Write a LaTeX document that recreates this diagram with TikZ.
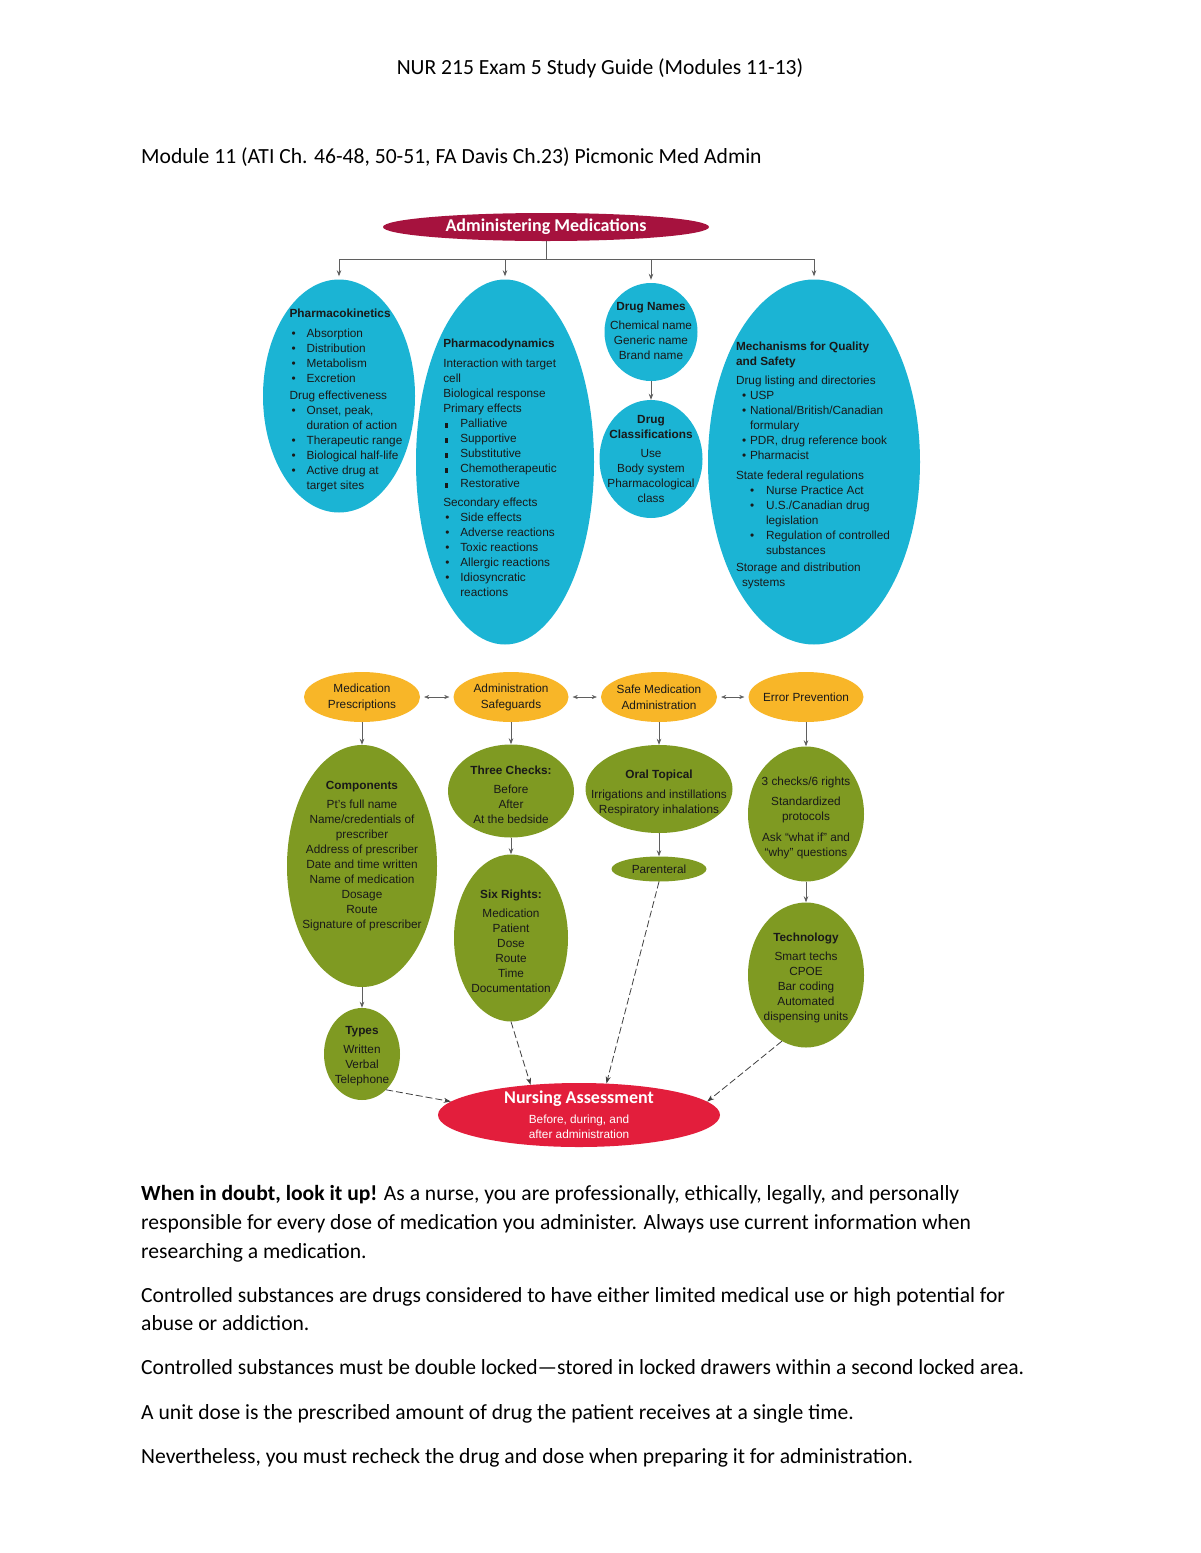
\documentclass[tikz,border=0pt]{standalone}
\usepackage{fontspec}
\setmainfont{Carlito}
\newfontfamily\arialfont{Liberation Sans}
\usetikzlibrary{positioning,shapes.geometric,arrows.meta}

\definecolor{titlered}{RGB}{166,18,62}
\definecolor{nurred}{RGB}{227,30,60}
\definecolor{ovalcyan}{RGB}{27,180,212}
\definecolor{ovalorange}{RGB}{248,182,40}
\definecolor{ovalgreen}{RGB}{127,154,34}
\definecolor{linegray}{RGB}{95,95,95}

% bullets for the list ovals
\newcommand\bul[1]{\hspace*{2pt}\makebox[15pt][l]{•}#1}
\newcommand\sqbul[1]{\hspace*{2pt}\makebox[15pt][l]{\rule{3pt}{4.5pt}}#1}
\newcommand\sbul[1]{\hspace*{6pt}\makebox[8pt][l]{•}#1}
\newcommand\wbul[1]{\hspace*{14pt}\makebox[16pt][l]{•}#1}

\begin{document}
\begin{tikzpicture}
        [x=1pt,y=-1pt,
        page/.style={font=\fontsize{21.6}{26}\selectfont,anchor=base west,inner sep=0pt},
        oval/.style={ellipse,inner sep=0pt},
        sz/.style 2 args={minimum width=#1pt,minimum height=#2pt},
        cyanoval/.style={oval,fill=ovalcyan},
        orangeoval/.style={oval,fill=ovalorange},
        greenoval/.style={oval,fill=ovalgreen},
        txt/.style={font=\arialfont\fontsize{11.8}{15}\selectfont,text=black!90,inner sep=0pt,align=center},
        ttl/.style={font=\bfseries\fontsize{18}{22}\selectfont,text=white,inner sep=0pt},
        conn/.style={draw=linegray,line width=0.8pt},
        arw/.style={conn,-{Stealth[length=6pt,width=4.5pt]}},
        darw/.style={draw=linegray,line width=0.4pt,{Stealth[length=5pt,width=4pt]}-{Stealth[length=5pt,width=4pt]},shorten <=4pt,shorten >=4pt},
        dasharw/.style={draw=black!75,line width=0.8pt,dash pattern=on 7pt off 3pt,-{Stealth[length=7pt,width=5pt]}}]

        \useasboundingbox[fill=white] (0,0) rectangle (1200,1553);

        % page text
        \node[page,anchor=base] (head) at (600,74) {NUR 215 Exam 5 Study Guide (Modules 11-13)};
        \node[page] (mod) at (141,163) {Module 11 (ATI Ch. 46-48, 50-51, FA Davis Ch.23) Picmonic Med Admin};

        % top level
        \node[oval,fill=titlered,sz={326}{28},ttl] (admin) at (546,227) {Administering Medications};

        \node[cyanoval,sz={152}{233}] (pkin) at (339,396) {};
        \node[cyanoval,sz={178}{365}] (pdyn) at (505,462) {};
        \node[cyanoval,sz={93}{98}] (dnames) at (651,332) {};
        \node[cyanoval,sz={103}{118}] (dclass) at (651,459) {};
        \node[cyanoval,sz={212}{365}] (mech) at (814,462) {};

        \node[txt,align=left] (pkin-t) at (346,400) {\textbf{Pharmacokinetics}\\[5pt]
            \bul{Absorption}\\ \bul{Distribution}\\ \bul{Metabolism}\\ \bul{Excretion}\\[2pt]
            Drug effectiveness\\ \bul{Onset, peak,}\\ \hspace*{17pt}duration of action\\
            \bul{Therapeutic range}\\ \bul{Biological half-life}\\ \bul{Active drug at}\\
            \hspace*{17pt}target sites};
        \node[txt,align=left] (pdyn-t) at (500,468) {\textbf{Pharmacodynamics}\\[5pt]
            Interaction with target\\ cell\\ Biological response\\ Primary effects\\
            \sqbul{Palliative}\\ \sqbul{Supportive}\\ \sqbul{Substitutive}\\
            \sqbul{Chemotherapeutic}\\ \sqbul{Restorative}\\[4pt]
            Secondary effects\\ \bul{Side effects}\\ \bul{Adverse reactions}\\
            \bul{Toxic reactions}\\ \bul{Allergic reactions}\\ \bul{Idiosyncratic}\\
            \hspace*{17pt}reactions};
        \node[txt] (dnames-t) at (651,331) {\textbf{Drug Names}\\[4pt]
            Chemical name\\ Generic name\\ Brand name};
        \node[txt] (dclass-t) at (651,459) {\textbf{Drug}\\ \textbf{Classifications}\\[4pt]
            Use\\ Body system\\ Pharmacological\\ class};
        \node[txt,align=left] (mech-t) at (813,465) {\textbf{Mechanisms for Quality}\\
            \textbf{and Safety}\\[4pt]
            Drug listing and directories\\ \sbul{USP}\\ \sbul{National/British/Canadian}\\
            \hspace*{14pt}formulary\\ \sbul{PDR, drug reference book}\\ \sbul{Pharmacist}\\[5pt]
            State federal regulations\\ \wbul{Nurse Practice Act}\\ \wbul{U.S./Canadian drug}\\
            \hspace*{30pt}legislation\\ \wbul{Regulation of controlled}\\
            \hspace*{30pt}substances\\[2pt]
            Storage and distribution\\ \hspace*{6pt}systems};

        \coordinate (bus) at (546,259);
        \draw[conn] (admin.south) -- (bus);
        \draw[conn] (pkin.north |- bus) -- (mech.north |- bus);
        \foreach \n in {pkin,pdyn,dnames,mech}
            \draw[arw] (\n.north |- bus) -- ([yshift=3pt]\n.north);
        \draw[arw] (dnames) -- (dclass);

        % second part
        \node[orangeoval,sz={116}{50}] (presc) at (362,697) {};
        \node[orangeoval,sz={115}{50}] (safeg) at (511,697) {};
        \node[orangeoval,sz={116}{50}] (safem) at (659,697) {};
        \node[orangeoval,sz={115}{50}] (errp) at (806,697) {};
        \node[txt,font=\arialfont\fontsize{11.8}{16}\selectfont] (presc-t) at (presc) {Medication\\ Prescriptions};
        \node[txt,font=\arialfont\fontsize{11.8}{16}\selectfont] (safeg-t) at (safeg) {Administration\\ Safeguards};
        \node[txt,font=\arialfont\fontsize{11.8}{16}\selectfont] (safem-t) at (safem) {Safe Medication\\ Administration};
        \node[txt] (errp-t) at (errp) {Error Prevention};
        \draw[darw] (presc) -- (safeg);
        \draw[darw] (safeg) -- (safem);
        \draw[darw] (safem) -- (errp);

        \node[greenoval,sz={150}{242}] (comp) at (362,866) {};
        \node[greenoval,sz={126}{93}] (threec) at (511,791) {};
        \node[greenoval,sz={147}{88}] (oral) at (659,789) {};
        \node[greenoval,sz={95}{25}] (paren) at (659,869) {};
        \node[greenoval,sz={116}{135}] (chk) at (806,814) {};
        \node[greenoval,sz={114}{167}] (sixr) at (511,938) {};
        \node[greenoval,sz={76}{92}] (types) at (362,1054) {};
        \node[greenoval,sz={116}{145}] (tech) at (806,975) {};

        \node[txt] (comp-t) at (362,856) {\textbf{Components}\\[4pt]
            Pt’s full name\\ Name/credentials of\\ prescriber\\ Address of prescriber\\
            Date and time written\\ Name of medication\\ Dosage\\ Route\\ Signature of prescriber};
        \node[txt] (threec-t) at (511,795) {\textbf{Three Checks:}\\[4pt] Before\\ After\\ At the bedside};
        \node[txt] (oral-t) at (659,793) {\textbf{Oral Topical}\\[5pt]
            Irrigations and instillations\\ Respiratory inhalations};
        \node[txt] (paren-t) at (paren) {Parenteral};
        \node[txt] (chk-t) at (806,818) {3 checks/6 rights\\[5pt] Standardized\\ protocols\\[6pt]
            Ask “what if” and\\ “why” questions};
        \node[txt] (sixr-t) at (511,941) {\textbf{Six Rights:}\\[4pt]
            Medication\\ Patient\\ Dose\\ Route\\ Time\\ Documentation};
        \node[txt] (types-t) at (362,1056) {\textbf{Types}\\[4pt] Written\\ Verbal\\ Telephone};
        \node[txt] (tech-t) at (806,978) {\textbf{Technology}\\[4pt]
            Smart techs\\ CPOE\\ Bar coding\\ Automated\\ dispensing units};

        \draw[arw] (presc) -- (comp);
        \draw[arw] (safeg) -- (threec);
        \draw[arw] (safem) -- (oral);
        \draw[arw] (errp) -- (chk);
        \draw[arw] (comp) -- (types);
        \draw[arw] (threec) -- (sixr);
        \draw[arw] (oral) -- (paren);
        \draw[arw] (chk) -- (tech);

        \node[oval,fill=nurred,sz={282}{64}] (na) at (579,1115) {};
        \node[ttl] (na-t) at (579,1099) {Nursing Assessment};
        \node[txt,text=white] (na-s) at (579,1127) {Before, during, and\\ after administration};

        \draw[dasharw] (types.-56) -- (na.174);
        \draw[dasharw] (sixr.south) -- (na.148);
        \draw[dasharw] (paren.south) -- (na.49);
        \draw[dasharw] (tech.250) -- (na.6);

        % notes under the map
        \node[page] (p1) at (141,1200) {\textbf{When in doubt, look it up!} As a nurse, you are professionally, ethically, legally, and personally};
        \node[page] (p2) at (141,1229) {responsible for every dose of medication you administer. Always use current information when};
        \node[page] (p3) at (141,1258) {researching a medication.};
        \node[page] (p4) at (141,1302) {Controlled substances are drugs considered to have either limited medical use or high potential for};
        \node[page] (p5) at (141,1330) {abuse or addiction.};
        \node[page] (p6) at (141,1374) {Controlled substances must be double locked—stored in locked drawers within a second locked area.};
        \node[page] (p7) at (141,1419) {A unit dose is the prescribed amount of drug the patient receives at a single time.};
        \node[page] (p8) at (141,1463) {Nevertheless, you must recheck the drug and dose when preparing it for administration.};
\end{tikzpicture}
\end{document}
